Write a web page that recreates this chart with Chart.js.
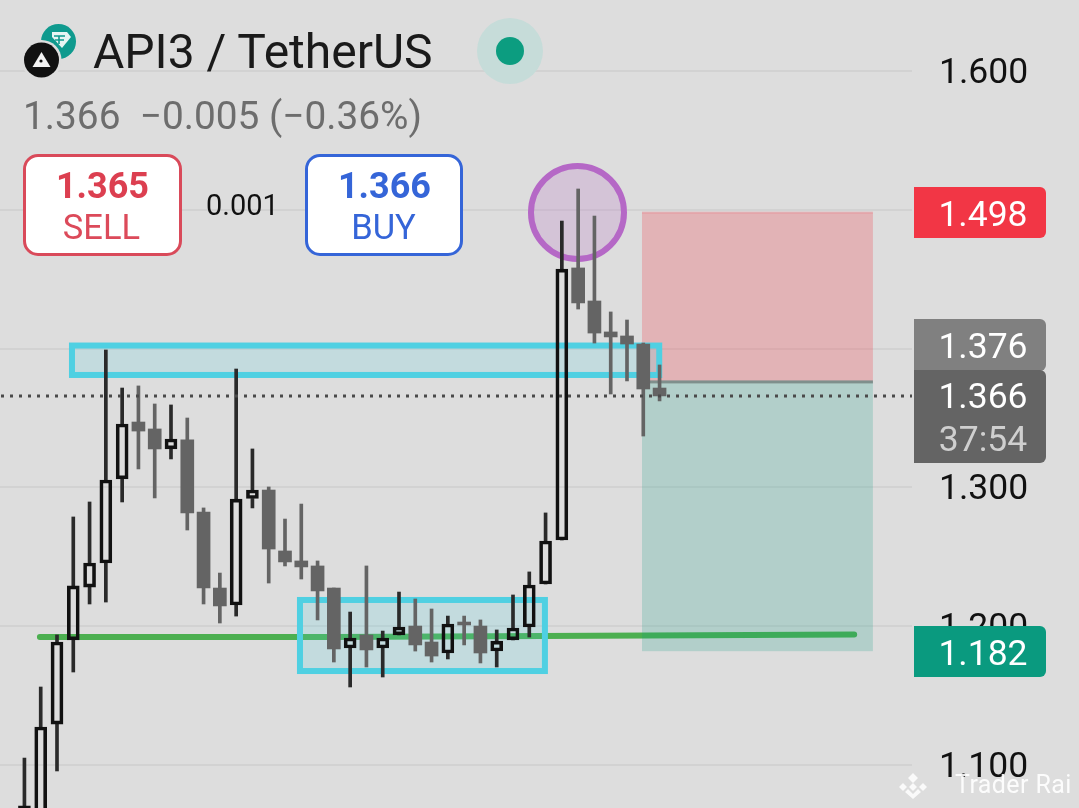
<!DOCTYPE html>
<html><head><meta charset="utf-8">
<script src="https://cdn.jsdelivr.net/npm/chart.js@4"></script>
<style>
html,body{margin:0;padding:0;background:#dddddd;width:1079px;height:808px;overflow:hidden}
body{position:relative;font-family:Roboto,sans-serif}
canvas{position:absolute;left:0;top:0}
.t{position:absolute;white-space:pre;line-height:1}
.box{position:absolute;box-sizing:border-box;background:#fff;border:3px solid;border-radius:15px}
.tag{position:absolute;left:914px;width:132px;border-radius:0 6px 6px 0;color:#fff}
.tag span{position:absolute;left:0;width:138px;text-align:center;font-size:35.5px;line-height:1}
</style></head><body>
<canvas id="c" width="1079" height="808"></canvas>

<svg style="position:absolute;left:0;top:0" width="560" height="100">
  <circle cx="510" cy="51" r="33" fill="#c6dcd9"/>
  <circle cx="510" cy="51" r="14" fill="#0c9d80"/>
  <circle cx="58.5" cy="41.5" r="17.5" fill="#0f9a8e"/>
  <path d="M52 32h15l4 5-9 11-10-11z" fill="#e8f5f3"/>
  <path d="M54 36h11M59 36v8M55 40h9" stroke="#0f9a8e" stroke-width="1.6" fill="none"/>
  <circle cx="41.5" cy="60" r="20" fill="#dddddd"/>
  <circle cx="41.5" cy="60" r="17.5" fill="#111"/>
  <path d="M41.5 52l9 15h-18z" fill="#f2f2f2"/>
  <circle cx="41" cy="61" r="1.6" fill="#111"/>
</svg>
<div class="t" style="left:93px;top:28px;font-size:48px;color:#1a1a1a">API3 / TetherUS</div>
<div class="t" style="left:23px;top:97px;font-size:38.8px;color:#6d6d6d">1.366  −0.005 (−0.36%)</div>
<div class="box" style="left:23px;top:154px;width:159px;height:102px;border-color:#d94a5a"></div>
<div class="t" style="left:23px;width:159px;text-align:center;top:168px;font-size:36px;font-weight:700;color:#dc3f50">1.365</div>
<div class="t" style="left:23px;width:157px;text-align:center;top:210px;font-size:34.5px;color:#dc4a5a">SELL</div>
<div class="t" style="left:206px;top:191px;font-size:29px;color:#111">0.001</div>
<div class="box" style="left:305px;top:154px;width:158px;height:102px;border-color:#3565d8"></div>
<div class="t" style="left:305px;width:159px;text-align:center;top:168px;font-size:36px;font-weight:700;color:#3565d8">1.366</div>
<div class="t" style="left:305px;width:157px;text-align:center;top:210px;font-size:34.5px;color:#3565d8">BUY</div>

<div class="tag" style="top:187px;height:51px;background:#f23645"><span style="top:9.5px">1.498</span></div>
<div class="tag" style="top:319px;height:52px;background:#808080"><span style="top:9.5px">1.376</span></div>
<div class="tag" style="top:370px;height:93px;background:#646464"><span style="top:9px">1.366</span><span style="top:51.5px;color:#cfcfcf">37:54</span></div>
<div class="tag" style="top:626px;height:51px;background:#0a9a7f"><span style="top:9.5px">1.182</span></div>

<svg style="position:absolute;left:898px;top:770px" width="32" height="30">
  <path d="M15 3l5 5-5 5-5-5zM5 13l4 4-4 4-4-4zM25 13l4 4-4 4-4-4zM15 13l4 4-4 4-4-4zM10 19l5 5 5-5 3 3-8 7-8-7z" fill="#fff" opacity=".85"/>
</svg>
<div class="t" style="left:955px;top:772px;font-size:25px;letter-spacing:.4px;color:#fff;opacity:.9">Trader Rai</div>

<script>
const categories = [0,1,2,3,4,5,6,7,8,9,10,11,12,13,14,15,16,17,18,19,20,21,22,23,24,25,26,27,28,29,30,31,32,33,34,35,36,37,38,39,40,41,42,43,44,45,46,47,48,49,50,51,52,53,54,55];
const opens  = [null,1.0500,1.0600,1.1295,1.1901,1.2282,1.2455,1.3061,1.3471,1.3421,1.3277,1.3342,1.2823,1.2275,1.2153,1.2920,1.2981,1.2542,1.2470,1.2434,1.2275,1.1843,1.1937,1.1843,1.1937,1.2001,1.1886,1.1807,1.2030,1.2001,1.1821,1.1901,1.1994,1.2304,1.2621,1.4581,1.4343,1.4120,1.4091,1.4033,1.3716];
const highs  = [null,1.1050,1.1562,1.1937,1.2787,1.2895,1.3990,1.3716,1.3731,1.3601,1.3594,1.3500,1.2852,1.2383,1.3853,1.3277,1.3003,1.2772,1.2880,1.2470,1.2275,1.2102,1.2434,1.1965,1.2246,1.2196,1.2124,1.2073,1.2073,1.2045,1.1973,1.2225,1.2391,1.2816,1.4919,1.5150,1.4955,1.4264,1.4206,1.4040,1.3882];
const lows   = [null,1.0400,1.0500,1.0957,1.1670,1.2160,1.2174,1.2895,1.3133,1.2924,1.3205,1.2693,1.2160,1.2023,1.2073,1.2852,1.2311,1.2434,1.2340,1.2045,1.1742,1.1562,1.1706,1.1634,1.1937,1.1821,1.1742,1.1764,1.1865,1.1735,1.1706,1.1901,1.1922,1.2304,1.2621,1.4285,1.4040,1.3673,1.3767,1.3370,1.3623];
const closes = [null,1.0705,1.1274,1.1886,1.2290,1.2455,1.3053,1.3457,1.3406,1.3277,1.3349,1.2816,1.2275,1.2146,1.2916,1.2981,1.2556,1.2463,1.2427,1.2254,1.1836,1.1915,1.1829,1.1915,1.1994,1.1865,1.1785,1.2016,1.2009,1.1807,1.1893,1.1987,1.2297,1.2614,1.4573,1.4329,1.4112,1.4084,1.4033,1.3709,1.3659];
const tickValues = [1.1,1.2,1.3,1.4,1.5,1.6];
const lastPrice = 1.366;
const stopLevel = 1.498, entryLevel = 1.376, targetLevel = 1.182;
const resistanceZone = [1.4022, 1.3810];
const baseZone = [1.2189, 1.1677];
const supportLine = [1.1922, 1.1940];
const peakPrice = 1.498;

const isUp = closes.map((c,i)=> c!==null && c>=opens[i]);
const upBodies = opens.map((o,i)=> (o!==null && isUp[i]) ? [o,closes[i]] : null);
const downBodies = opens.map((o,i)=> (o!==null && !isUp[i]) ? [o,closes[i]] : null);
const wicksUpper = highs.map((h,i)=> h===null ? null : [Math.max(opens[i],closes[i]),h]);
const wicksLower = lows.map((l,i)=> l===null ? null : [l,Math.min(opens[i],closes[i])]);
const wickColors = isUp.map(u=>u?'#2a2a2a':'#646464');

const overlay = {
  id:'overlay',
  beforeDatasetsDraw(ch){
    const g=ch.ctx, X=ch.scales.x, Y=ch.scales.y;
    g.save();
    g.strokeStyle='#4caf50'; g.lineWidth=6; g.lineCap='round';
    g.beginPath(); g.moveTo(X.getPixelForValue(1.95),Y.getPixelForValue(supportLine[0]));
    g.lineTo(X.getPixelForValue(20),Y.getPixelForValue(supportLine[0]));
    g.lineTo(X.getPixelForValue(51.95),Y.getPixelForValue(supportLine[1])); g.stroke();
    g.lineCap='butt';
    const xa=X.getPixelForValue(38.92), xb=X.getPixelForValue(53.1);
    const yS=Y.getPixelForValue(stopLevel), yE=Y.getPixelForValue(entryLevel), yT=Y.getPixelForValue(targetLevel);
    g.fillStyle='rgba(242,54,69,.25)'; g.fillRect(xa,yS,xb-xa,yE-yS);
    g.fillStyle='rgba(8,153,129,.2)'; g.fillRect(xa,yE,xb-xa,yT-yE);
    g.fillStyle='rgba(242,54,69,.2)'; g.fillRect(xa,yS-1,xb-xa,2);
    g.fillStyle='#7f8f8c'; g.fillRect(xa,yE-1.5,xb-xa,3);
    const zone=(i0,i1,z)=>{
      const x0=X.getPixelForValue(i0),x1=X.getPixelForValue(i1),y0=Y.getPixelForValue(z[0]),y1=Y.getPixelForValue(z[1]);
      g.fillStyle='rgba(77,208,225,.18)'; g.fillRect(x0,y0,x1-x0,y1-y0);
      g.strokeStyle='#4fd0e2'; g.lineWidth=6; g.strokeRect(x0,y0,x1-x0,y1-y0);
    };
    zone(3.92,39.98,resistanceZone);
    zone(17.92,32.96,baseZone);
    g.beginPath(); g.arc(X.getPixelForValue(34.96),Y.getPixelForValue(peakPrice),46.5,0,Math.PI*2);
    g.fillStyle='rgba(179,102,196,.2)'; g.fill();
    g.strokeStyle='#b568c6'; g.lineWidth=6; g.stroke();
    g.restore();
  },
  afterDatasetsDraw(ch){
    const g=ch.ctx, Y=ch.scales.y, y=Math.round(Y.getPixelForValue(lastPrice));
    g.save(); g.strokeStyle='#4a4a4a'; g.lineWidth=3; g.setLineDash([3,6]);
    g.beginPath(); g.moveTo(1,y); g.lineTo(ch.chartArea.right,y); g.stroke(); g.restore();
  }
};

new Chart(document.getElementById('c'),{
  type:'bar',
  data:{labels:categories,datasets:[
    {data:upBodies,order:0,barThickness:12,backgroundColor:'rgba(220,220,220,0)',borderColor:'#111111',borderWidth:3,borderSkipped:false},
    {data:downBodies,order:1,barThickness:13,backgroundColor:'#646464',borderWidth:0},
    {data:wicksUpper,order:2,barThickness:3,backgroundColor:wickColors,borderWidth:0},
    {data:wicksLower,order:3,barThickness:3,backgroundColor:wickColors,borderWidth:0}
  ]},
  options:{
    responsive:false,animation:false,devicePixelRatio:1,
    layout:{padding:0},
    datasets:{bar:{grouped:false}},
    plugins:{legend:{display:false},tooltip:{enabled:false},title:{display:false}},
    scales:{
      x:{display:false,offset:true,grid:{display:false}},
      y:{position:'right',min:1.06902,max:1.65115,
        afterFit(s){s.width=167;s.paddingTop=0;s.paddingBottom=0},
        afterBuildTicks(s){s.ticks=tickValues.map(v=>({value:v}))},
        border:{display:false},
        grid:{color:'#d2d2d2',lineWidth:2,drawTicks:false},
        ticks:{padding:27,labelOffset:3,color:'#111',font:{family:'Roboto',size:35.5},callback:v=>Number(v).toFixed(3),autoSkip:false}
      }
    }
  },
  plugins:[overlay]
});
</script>
</body></html>
